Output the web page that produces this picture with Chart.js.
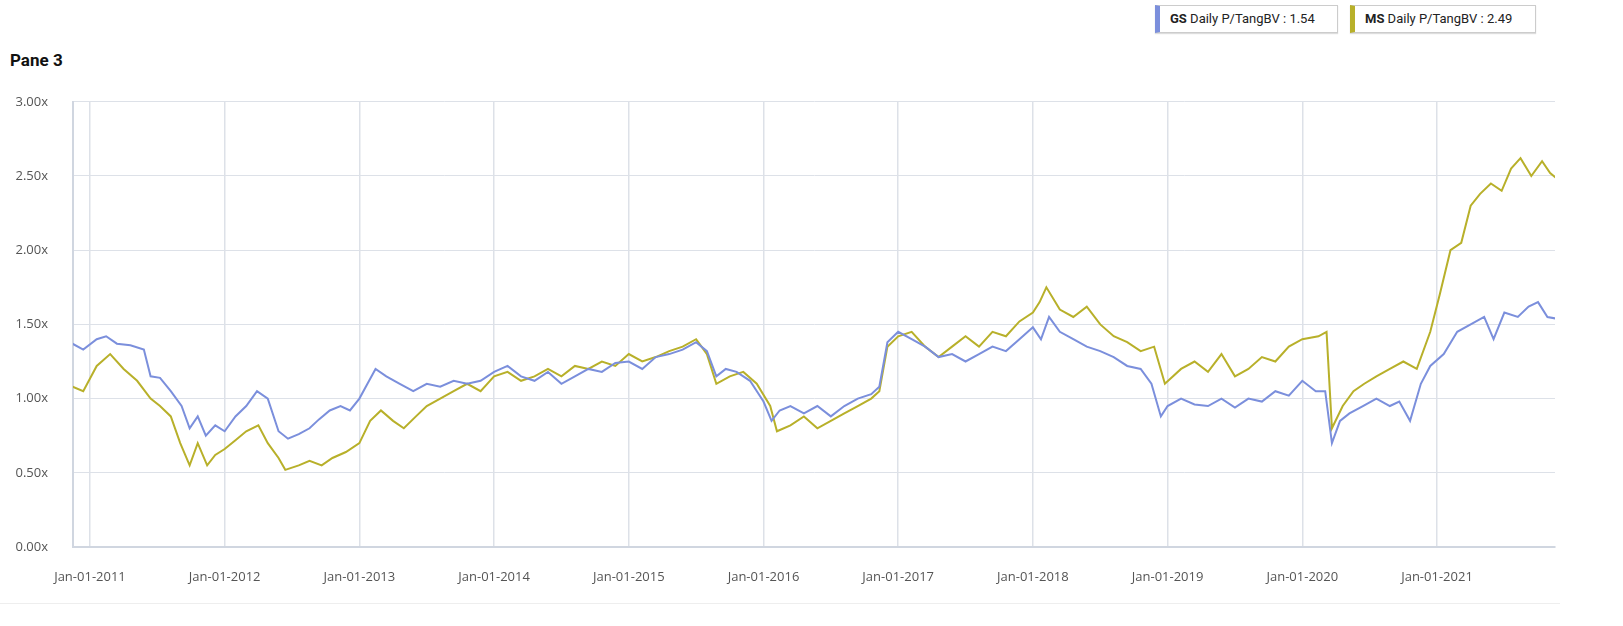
<!DOCTYPE html>
<html><head><meta charset="utf-8">
<script src="https://cdn.jsdelivr.net/npm/chart.js@4"></script>
<style>
body{margin:0;background:#fff;font-family:"Open Sans",Roboto,sans-serif;}
#title{position:absolute;left:10px;top:50px;font:bold 17px Roboto,"DejaVu Sans",sans-serif;color:#111;}
.lg{position:absolute;top:5px;height:28px;border:1px solid #ccc;border-left:5px solid;box-sizing:border-box;font:13px Roboto,sans-serif;line-height:26px;padding-left:10px;color:#222;box-shadow:0 1px 1px #ddd}
#wrap{position:absolute;left:0;top:69px;width:1623px;height:557px;}
#foot{position:absolute;left:0;top:603px;width:1560px;border-top:1px solid #eee}
</style></head><body>
<div id="title">Pane 3</div>
<div class="lg" style="left:1155px;width:183px;border-left-color:#7b8fdc"><b>GS</b> Daily P/TangBV : 1.54</div>
<div class="lg" style="left:1350px;width:186px;border-left-color:#b8b02a"><b>MS</b> Daily P/TangBV : 2.49</div>
<div id="wrap"><canvas id="c"></canvas></div>
<div id="foot"></div>
<script>
const yearTicks=[2011,2012,2013,2014,2015,2016,2017,2018,2019,2020,2021];
const yTicks=[0,0.5,1,1.5,2,2.5,3];
const gsDates=[2010.87,2010.95,2011.05,2011.12,2011.2,2011.3,2011.4,2011.45,2011.52,2011.6,2011.68,2011.74,2011.8,2011.86,2011.93,2012.0,2012.08,2012.16,2012.24,2012.32,2012.4,2012.47,2012.55,2012.63,2012.7,2012.78,2012.86,2012.93,2013.0,2013.06,2013.12,2013.2,2013.3,2013.4,2013.5,2013.6,2013.7,2013.8,2013.9,2014.0,2014.1,2014.2,2014.3,2014.4,2014.5,2014.6,2014.7,2014.8,2014.9,2015.0,2015.1,2015.2,2015.3,2015.4,2015.5,2015.58,2015.65,2015.72,2015.8,2015.9,2016.0,2016.06,2016.12,2016.2,2016.3,2016.4,2016.5,2016.6,2016.7,2016.8,2016.86,2016.92,2017.0,2017.1,2017.2,2017.3,2017.4,2017.5,2017.6,2017.7,2017.8,2017.9,2018.0,2018.06,2018.12,2018.2,2018.3,2018.4,2018.5,2018.6,2018.7,2018.8,2018.88,2018.95,2019.0,2019.1,2019.2,2019.3,2019.4,2019.5,2019.6,2019.7,2019.8,2019.9,2020.0,2020.1,2020.17,2020.22,2020.28,2020.35,2020.45,2020.55,2020.65,2020.72,2020.8,2020.88,2020.95,2021.05,2021.15,2021.25,2021.35,2021.42,2021.5,2021.6,2021.68,2021.75,2021.82,2021.88];
const gsVals=[1.37,1.33,1.40,1.42,1.37,1.36,1.33,1.15,1.14,1.05,0.95,0.80,0.88,0.75,0.82,0.78,0.88,0.95,1.05,1.00,0.78,0.73,0.76,0.80,0.86,0.92,0.95,0.92,1.00,1.10,1.20,1.15,1.10,1.05,1.10,1.08,1.12,1.10,1.12,1.18,1.22,1.15,1.12,1.18,1.10,1.15,1.20,1.18,1.24,1.25,1.20,1.28,1.30,1.33,1.38,1.32,1.15,1.20,1.18,1.12,0.98,0.85,0.92,0.95,0.90,0.95,0.88,0.95,1.00,1.03,1.08,1.38,1.45,1.40,1.35,1.28,1.30,1.25,1.30,1.35,1.32,1.40,1.48,1.40,1.55,1.45,1.40,1.35,1.32,1.28,1.22,1.20,1.10,0.88,0.95,1.00,0.96,0.95,1.00,0.94,1.00,0.98,1.05,1.02,1.12,1.05,1.05,0.70,0.85,0.90,0.95,1.00,0.95,0.98,0.85,1.10,1.22,1.30,1.45,1.50,1.55,1.40,1.58,1.55,1.62,1.65,1.55,1.54];
const msDates=[2010.87,2010.95,2011.05,2011.15,2011.25,2011.35,2011.45,2011.52,2011.6,2011.67,2011.74,2011.8,2011.87,2011.93,2012.0,2012.08,2012.16,2012.25,2012.32,2012.4,2012.45,2012.55,2012.63,2012.72,2012.8,2012.9,2013.0,2013.08,2013.16,2013.25,2013.33,2013.42,2013.5,2013.6,2013.7,2013.8,2013.9,2014.0,2014.1,2014.2,2014.3,2014.4,2014.5,2014.6,2014.7,2014.8,2014.9,2015.0,2015.1,2015.2,2015.3,2015.4,2015.5,2015.58,2015.65,2015.75,2015.85,2015.95,2016.05,2016.1,2016.2,2016.3,2016.4,2016.5,2016.6,2016.7,2016.8,2016.86,2016.92,2017.0,2017.1,2017.2,2017.3,2017.4,2017.5,2017.6,2017.7,2017.8,2017.9,2018.0,2018.05,2018.1,2018.2,2018.3,2018.4,2018.5,2018.6,2018.7,2018.8,2018.9,2018.98,2019.1,2019.2,2019.3,2019.4,2019.5,2019.6,2019.7,2019.8,2019.9,2020.0,2020.12,2020.18,2020.22,2020.3,2020.38,2020.46,2020.55,2020.65,2020.75,2020.85,2020.95,2021.02,2021.1,2021.18,2021.25,2021.32,2021.4,2021.48,2021.55,2021.62,2021.7,2021.78,2021.84,2021.88];
const msVals=[1.08,1.05,1.22,1.30,1.20,1.12,1.00,0.95,0.88,0.70,0.55,0.70,0.55,0.62,0.66,0.72,0.78,0.82,0.70,0.60,0.52,0.55,0.58,0.55,0.60,0.64,0.70,0.85,0.92,0.85,0.80,0.88,0.95,1.00,1.05,1.10,1.05,1.15,1.18,1.12,1.15,1.20,1.15,1.22,1.20,1.25,1.22,1.30,1.25,1.28,1.32,1.35,1.40,1.30,1.10,1.15,1.18,1.10,0.95,0.78,0.82,0.88,0.80,0.85,0.90,0.95,1.00,1.05,1.35,1.42,1.45,1.35,1.28,1.35,1.42,1.35,1.45,1.42,1.52,1.58,1.65,1.75,1.60,1.55,1.62,1.50,1.42,1.38,1.32,1.35,1.10,1.20,1.25,1.18,1.30,1.15,1.20,1.28,1.25,1.35,1.40,1.42,1.45,0.80,0.95,1.05,1.10,1.15,1.20,1.25,1.20,1.45,1.70,2.00,2.05,2.30,2.38,2.45,2.40,2.55,2.62,2.50,2.60,2.52,2.49];
const ticksFont={family:'"Open Sans",Roboto,sans-serif',size:13};
new Chart(document.getElementById('c'),{
 type:'line',
 data:{datasets:[
  {data:gsDates.map((d,i)=>({x:d,y:gsVals[i]})),borderColor:'#7b8fdc',borderWidth:2,pointRadius:0,tension:0},
  {data:msDates.map((d,i)=>({x:d,y:msVals[i]})),borderColor:'#b8b02a',borderWidth:2,pointRadius:0,tension:0}
 ]},
 options:{responsive:true,maintainAspectRatio:false,animation:false,
  layout:{padding:{top:11,right:68,left:0,bottom:0}},
  plugins:{legend:{display:false},tooltip:{enabled:false}},
  scales:{
   x:{type:'linear',min:2010.874,max:2021.876,
     afterBuildTicks:a=>{a.ticks=yearTicks.map(v=>({value:v}));},
     afterFit:a=>{a.height=79;},
     ticks:{callback:v=>'Jan-01-'+v,color:'#555',font:ticksFont,padding:22,maxRotation:0,autoSkip:false},
     grid:{color:'#dde1e8',lineWidth:1.5,drawTicks:false},border:{color:'#d0d6e0',width:2}},
   y:{min:0,max:3,
     afterBuildTicks:a=>{a.ticks=yTicks.map(v=>({value:v}));},
     afterFit:a=>{a.width=73;},
     ticks:{callback:v=>v.toFixed(2)+'x',color:'#555',font:ticksFont,padding:25},
     grid:{color:'#dde1e8',lineWidth:1,drawTicks:false},border:{color:'#d0d6e0',width:2}}
  }}
});
</script></body></html>
